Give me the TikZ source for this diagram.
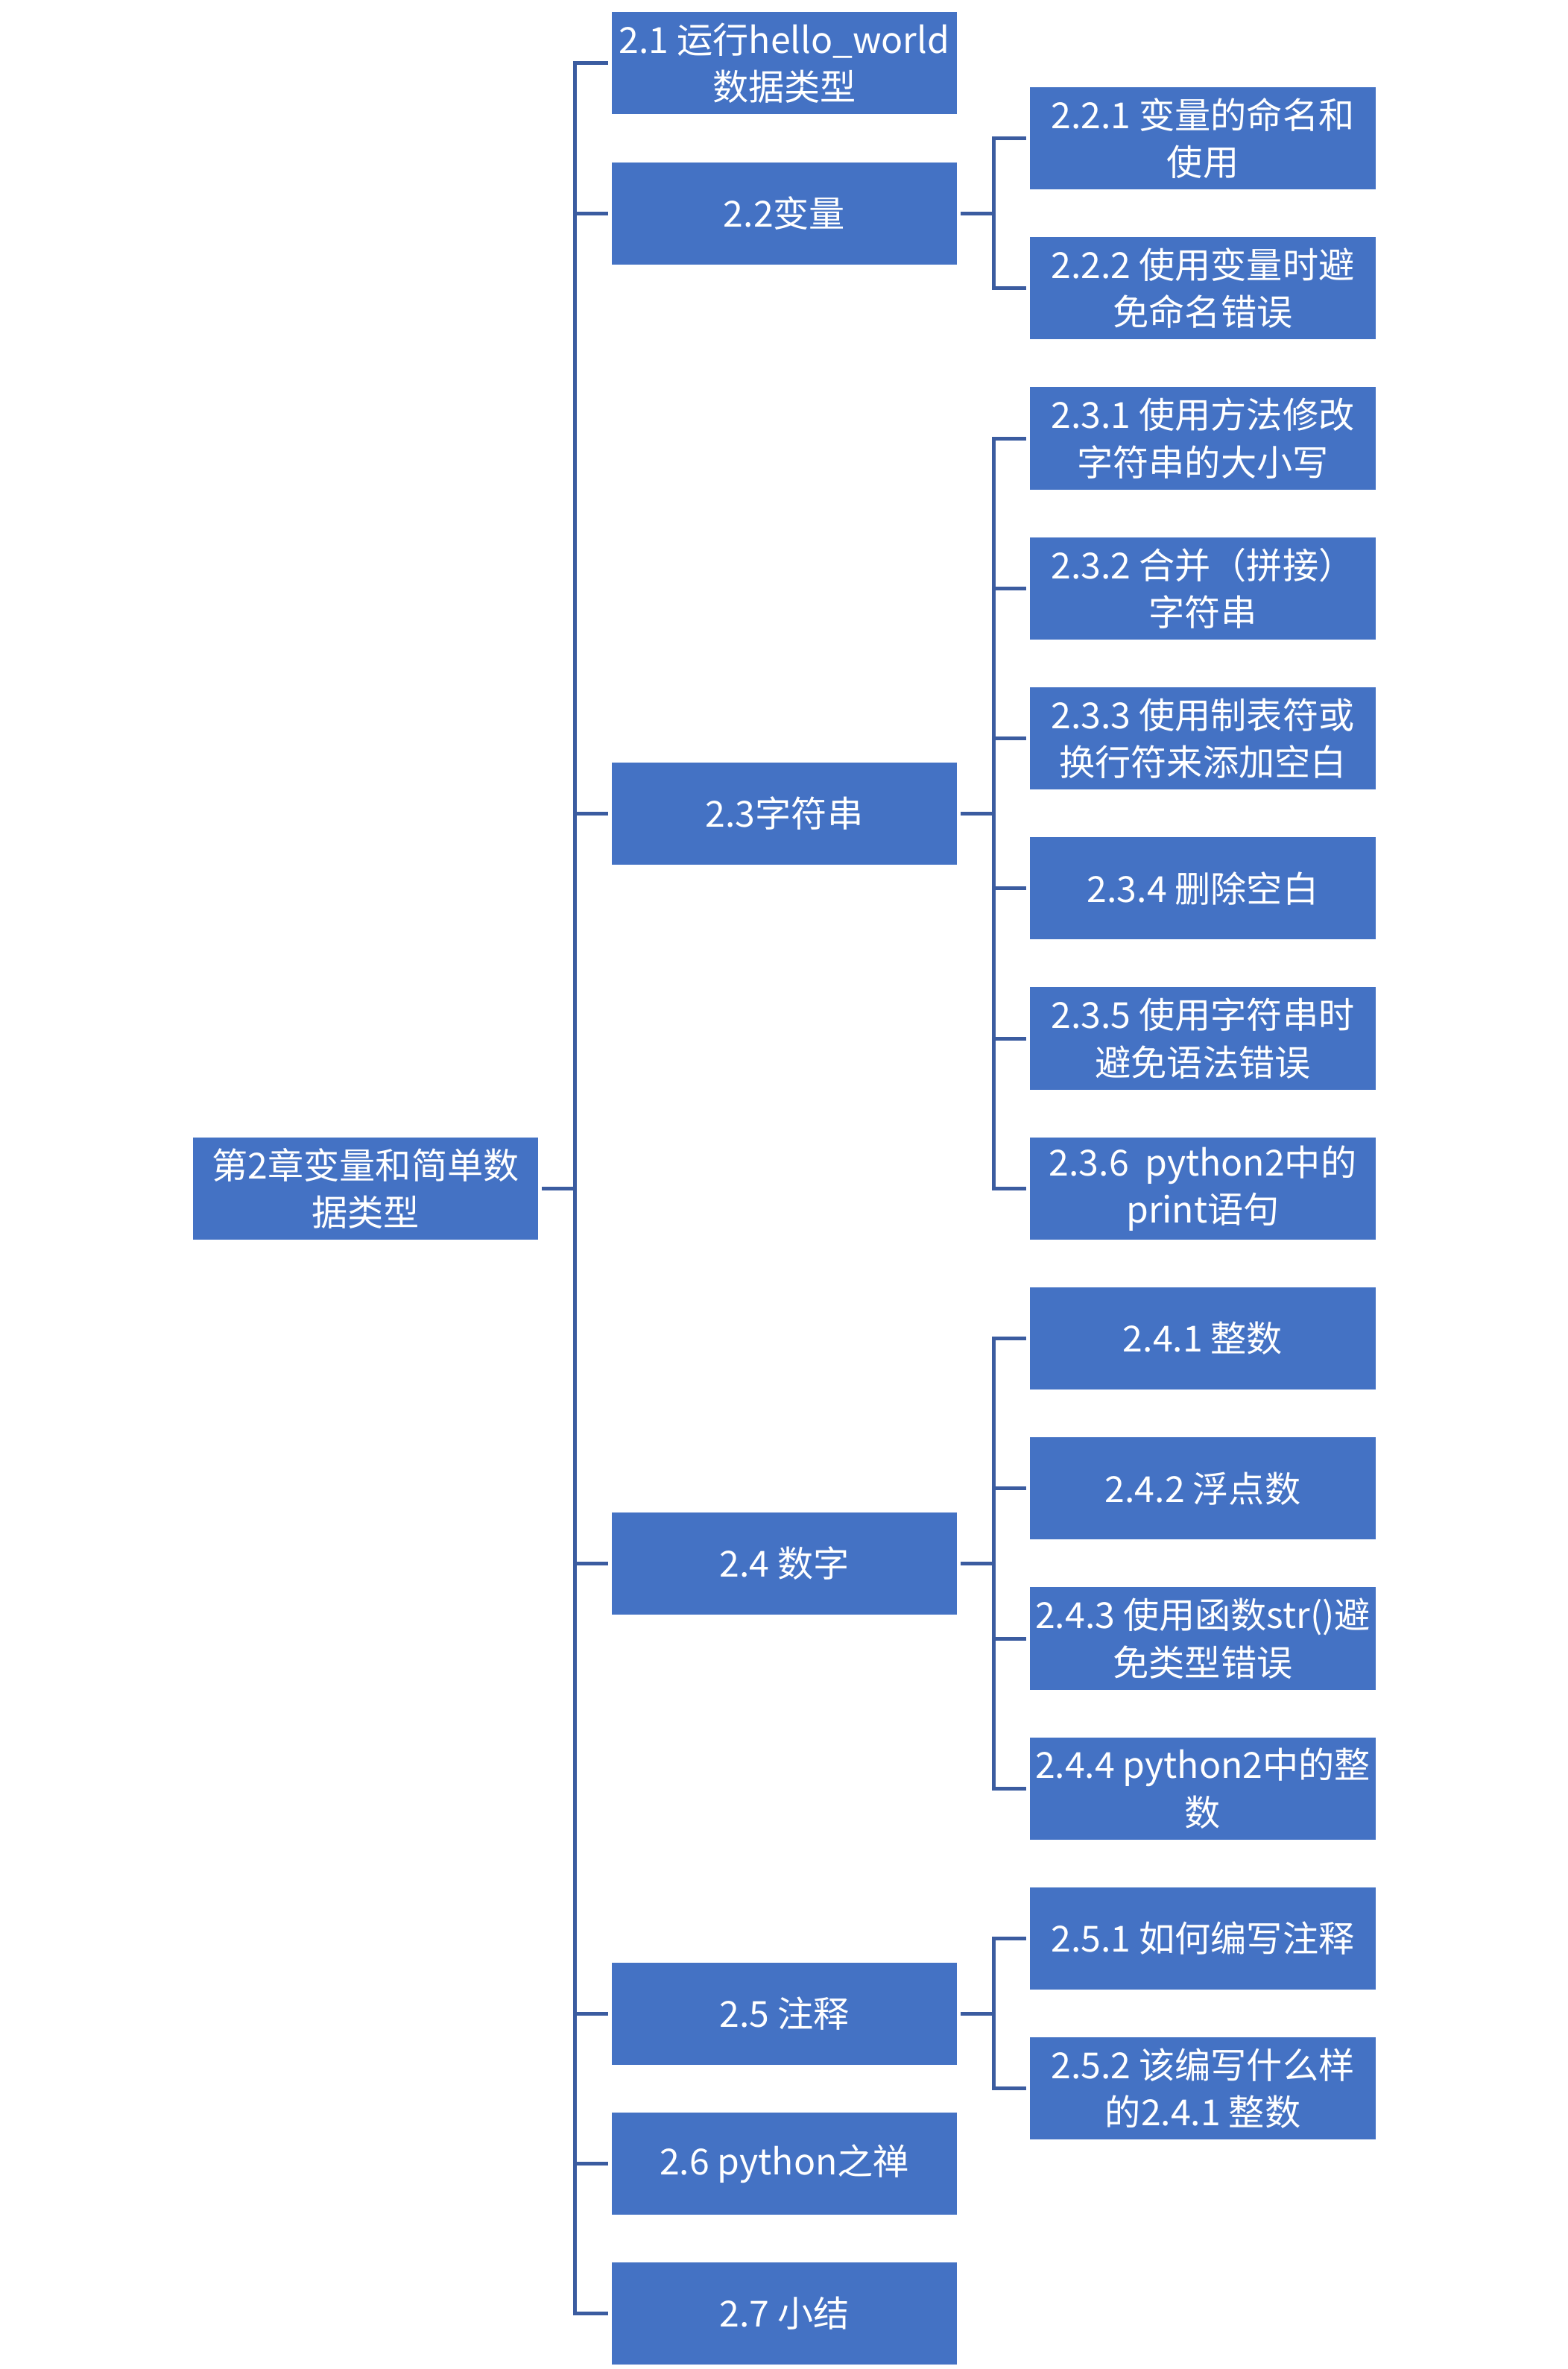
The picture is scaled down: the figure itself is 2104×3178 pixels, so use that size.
\documentclass[tikz,border=0pt]{standalone}
\usepackage{fontspec}
\newfontfamily\cjk{Noto Sans CJK SC}
\definecolor{boxblue}{HTML}{4472C4}
\definecolor{lineblue}{HTML}{3B5CA0}

\begin{document}
\begin{tikzpicture}[x=0.01cm,y=-0.01cm,
  every node/.style={fill=boxblue,text=white,minimum width=4.63cm,
    minimum height=1.37cm,inner sep=0pt,outer sep=0.05cm,align=center,
    font=\cjk\fontsize{13.7}{18}\selectfont},
  conn/.style={draw=lineblue,line width=0.05cm}]
  \useasboundingbox (0,0) rectangle (2104,3178);

  \node (root) at (490.5,1594.25) {第2章变量和简单数\\据类型};

  \node (s21) at (1052.5,84.9)   {2.1 运行hello\_world\\数据类型};
  \node (s22) at (1052.5,286.1)  {2.2变量};
  \node (s23) at (1052.5,1091.1) {2.3字符串};
  \node (s24) at (1052.5,2097.4) {2.4 数字};
  \node (s25) at (1052.5,2701.1) {2.5 注释};
  \node (s26) at (1052.5,2902.4) {2.6 python之禅};
  \node (s27) at (1052.5,3103.6) {2.7 小结};

  \node (s221) at (1614,185.5)  {2.2.1 变量的命名和\\使用};
  \node (s222) at (1614,386.75) {2.2.2 使用变量时避\\免命名错误};
  \node (s231) at (1614,588)    {2.3.1 使用方法修改\\字符串的大小写};
  \node (s232) at (1614,789.25) {2.3.2 合并（拼接）\\字符串};
  \node (s233) at (1614,990.5)  {2.3.3 使用制表符或\\换行符来添加空白};
  \node (s234) at (1614,1191.75){2.3.4 删除空白};
  \node (s235) at (1614,1393)   {2.3.5 使用字符串时\\避免语法错误};
  \node (s236) at (1614,1594.25){2.3.6~ python2中的\\print语句};
  \node (s241) at (1614,1795.5) {2.4.1 整数};
  \node (s242) at (1614,1996.75){2.4.2 浮点数};
  \node (s243) at (1614,2198)   {2.4.3 使用函数str()避\\免类型错误};
  \node (s244) at (1614,2399.25){2.4.4 python2中的整\\数};
  \node (s251) at (1614,2600.5) {2.5.1 如何编写注释};
  \node (s252) at (1614,2801.75){2.5.2 该编写什么样\\的2.4.1 整数};

  \coordinate (bus)  at (771.5,1594.25);
  \coordinate (bus2) at (1333.5,286.1);
  \coordinate (bus3) at (1333.5,1091.1);
  \coordinate (bus4) at (1333.5,2097.4);
  \coordinate (bus5) at (1333.5,2701.1);

  \draw[conn] (root.east) -- (bus);
  \foreach \n in {s21,s22,s23,s24,s25,s26,s27}
    \draw[conn] (bus) |- (\n.west);

  \draw[conn] (s22.east) -- (bus2);
  \foreach \n in {s221,s222} \draw[conn] (bus2) |- (\n.west);
  \draw[conn] (s23.east) -- (bus3);
  \foreach \n in {s231,s232,s233,s234,s235,s236} \draw[conn] (bus3) |- (\n.west);
  \draw[conn] (s24.east) -- (bus4);
  \foreach \n in {s241,s242,s243,s244} \draw[conn] (bus4) |- (\n.west);
  \draw[conn] (s25.east) -- (bus5);
  \foreach \n in {s251,s252} \draw[conn] (bus5) |- (\n.west);
\end{tikzpicture}
\end{document}
